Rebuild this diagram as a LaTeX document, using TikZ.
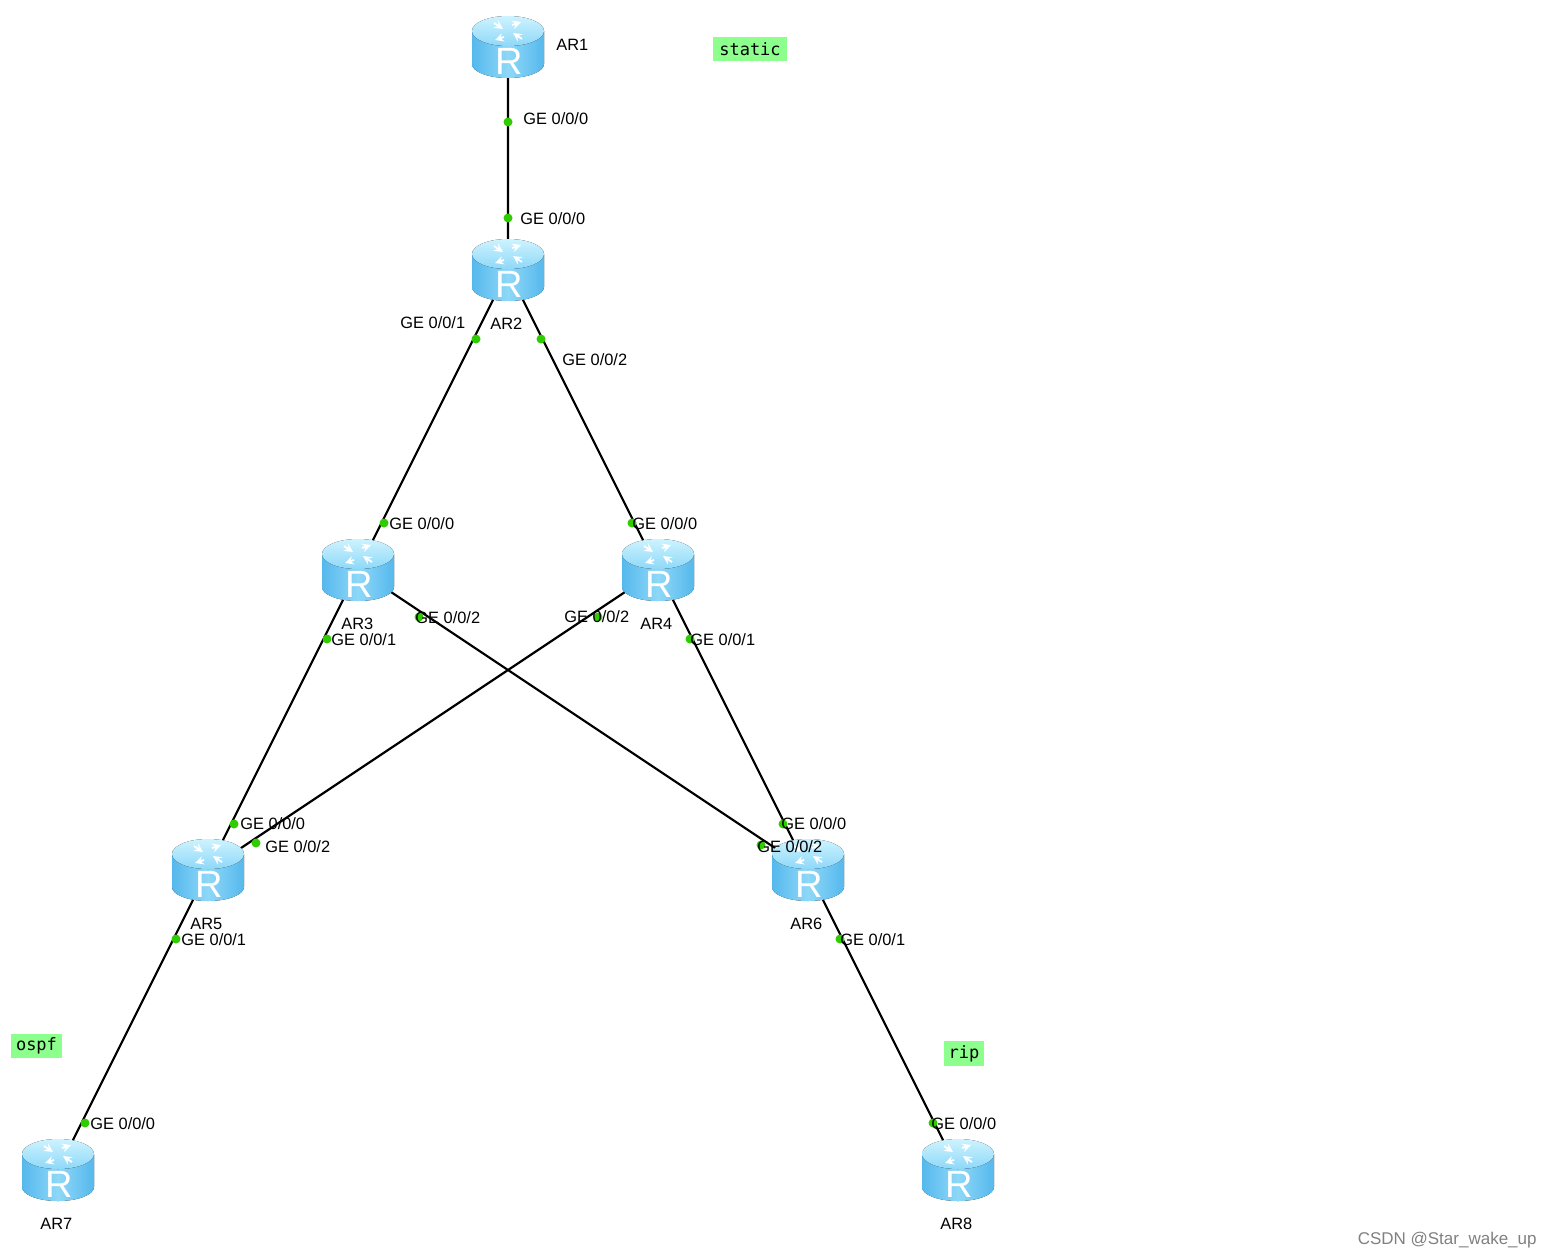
\documentclass[tikz,border=0pt]{standalone}
\usepackage{fontspec}
\setmainfont{Liberation Sans}
\newfontfamily\monof{DejaVu Sans Mono}
\begin{document}
\begin{tikzpicture}[x=0.5pt,y=-0.5pt,
  lnk/.style={line width=1.1pt,black},
  dot/.style={circle,fill=green!70!lime!80!black,inner sep=0pt,minimum size=4.5pt},
  lbl/.style={anchor=west,inner sep=0pt,font=\fontsize{8.2}{9}\selectfont},
  tag/.style={fill=green!45!white,inner sep=1.5pt,font=\monof\fontsize{8.5}{9}\selectfont}]
\useasboundingbox (0,0) rectangle (1552,1258);
\definecolor{rtop}{HTML}{B8EEFF}
\definecolor{rbody}{HTML}{8ED8F8}
\definecolor{rdark}{HTML}{55B8EC}
\newcommand{\router}[3]{%
 \coordinate (#1) at (#2,#3);
 \begin{scope}[shift={(#2,#3)}]
  \fill[left color=rdark,right color=rdark,middle color=rbody] (-36,-16) -- (-36,17) arc[start angle=180,end angle=0,x radius=36,y radius=14] -- (36,-16) -- cycle;
  \fill[top color=rtop!70!white,bottom color=rbody] (0,-16) ellipse[x radius=36,y radius=15];
  \begin{scope}[white,line width=0.9pt,->,>=stealth]
   \draw (-14,-24)--(-5,-18); \draw (14,-8)--(5,-14);
   \draw (4,-22)--(13,-25); \draw (-4,-10)--(-13,-7);
  \end{scope}
  \node[white,font=\fontsize{19}{19}\selectfont] at (1,14) {R};
 \end{scope}}
% links
\coordinate (A1) at (508,47); \coordinate (A2) at (508,270);
\coordinate (A3) at (358,570); \coordinate (A4) at (658,570);
\coordinate (A5) at (208,870); \coordinate (A6) at (808,870);
\coordinate (A7) at (58,1170); \coordinate (A8) at (958,1170);
\draw[lnk] (A1)--(A2) (A2)--(A3) (A2)--(A4) (A3)--(A5) (A3)--(A6) (A4)--(A5) (A4)--(A6) (A5)--(A7) (A6)--(A8);
\router{R1}{508}{47}\router{R2}{508}{270}\router{R3}{358}{570}\router{R4}{658}{570}
\router{R5}{208}{870}\router{R6}{808}{870}\router{R7}{58}{1170}\router{R8}{958}{1170}
% dots
\foreach \p [count=\i] in {(508,122),(508,218),(476,339),(384,523),(541,339),(632,523),(327,639),(234,824),(419,617),(761,845),(598,617),(256,843),(690,639),(783,824),(176,939),(85,1123),(840,939),(933,1123)}
  \node[dot] (d\i) at \p {};
% labels
\node[lbl] (l1) at (556,45) {AR1};
\node[lbl] (l2) at (523,119) {GE 0/0/0};
\node[lbl] (l3) at (520,219) {GE 0/0/0};
\node[lbl] (l4) at (400,323) {GE 0/0/1};
\node[lbl] (l5) at (490,324) {AR2};
\node[lbl] (l6) at (562,360) {GE 0/0/2};
\node[lbl] (l7) at (389,524) {GE 0/0/0};
\node[lbl] (l8) at (632,524) {GE 0/0/0};
\node[lbl] (l9) at (415,618) {GE 0/0/2};
\node[lbl] (l10) at (564,617) {GE 0/0/2};
\node[lbl] (l11) at (341,624) {AR3};
\node[lbl] (l12) at (331,640) {GE 0/0/1};
\node[lbl] (l13) at (640,624) {AR4};
\node[lbl] (l14) at (690,640) {GE 0/0/1};
\node[lbl] (l15) at (240,824) {GE 0/0/0};
\node[lbl] (l16) at (265,847) {GE 0/0/2};
\node[lbl] (l17) at (190,924) {AR5};
\node[lbl] (l18) at (181,940) {GE 0/0/1};
\node[lbl] (l19) at (781,824) {GE 0/0/0};
\node[lbl] (l20) at (757,847) {GE 0/0/2};
\node[lbl] (l21) at (790,924) {AR6};
\node[lbl] (l22) at (840,940) {GE 0/0/1};
\node[lbl] (l23) at (90,1124) {GE 0/0/0};
\node[lbl] (l24) at (40,1224) {AR7};
\node[lbl] (l25) at (931,1124) {GE 0/0/0};
\node[lbl] (l26) at (940,1224) {AR8};
\node[tag,minimum width=37pt,minimum height=12pt] (t1) at (750,49) {static};
\node[tag,minimum width=25.5pt,minimum height=12pt] (t2) at (36.5,1046) {ospf};
\node[tag,minimum width=20pt,minimum height=12.5pt] (t3) at (964,1053.5) {rip};
\node[anchor=east,inner sep=0pt,gray,font=\fontsize{8.5}{9}\selectfont] (wm) at (1537,1240) {CSDN @Star\_wake\_up};
\end{tikzpicture}
\end{document}
